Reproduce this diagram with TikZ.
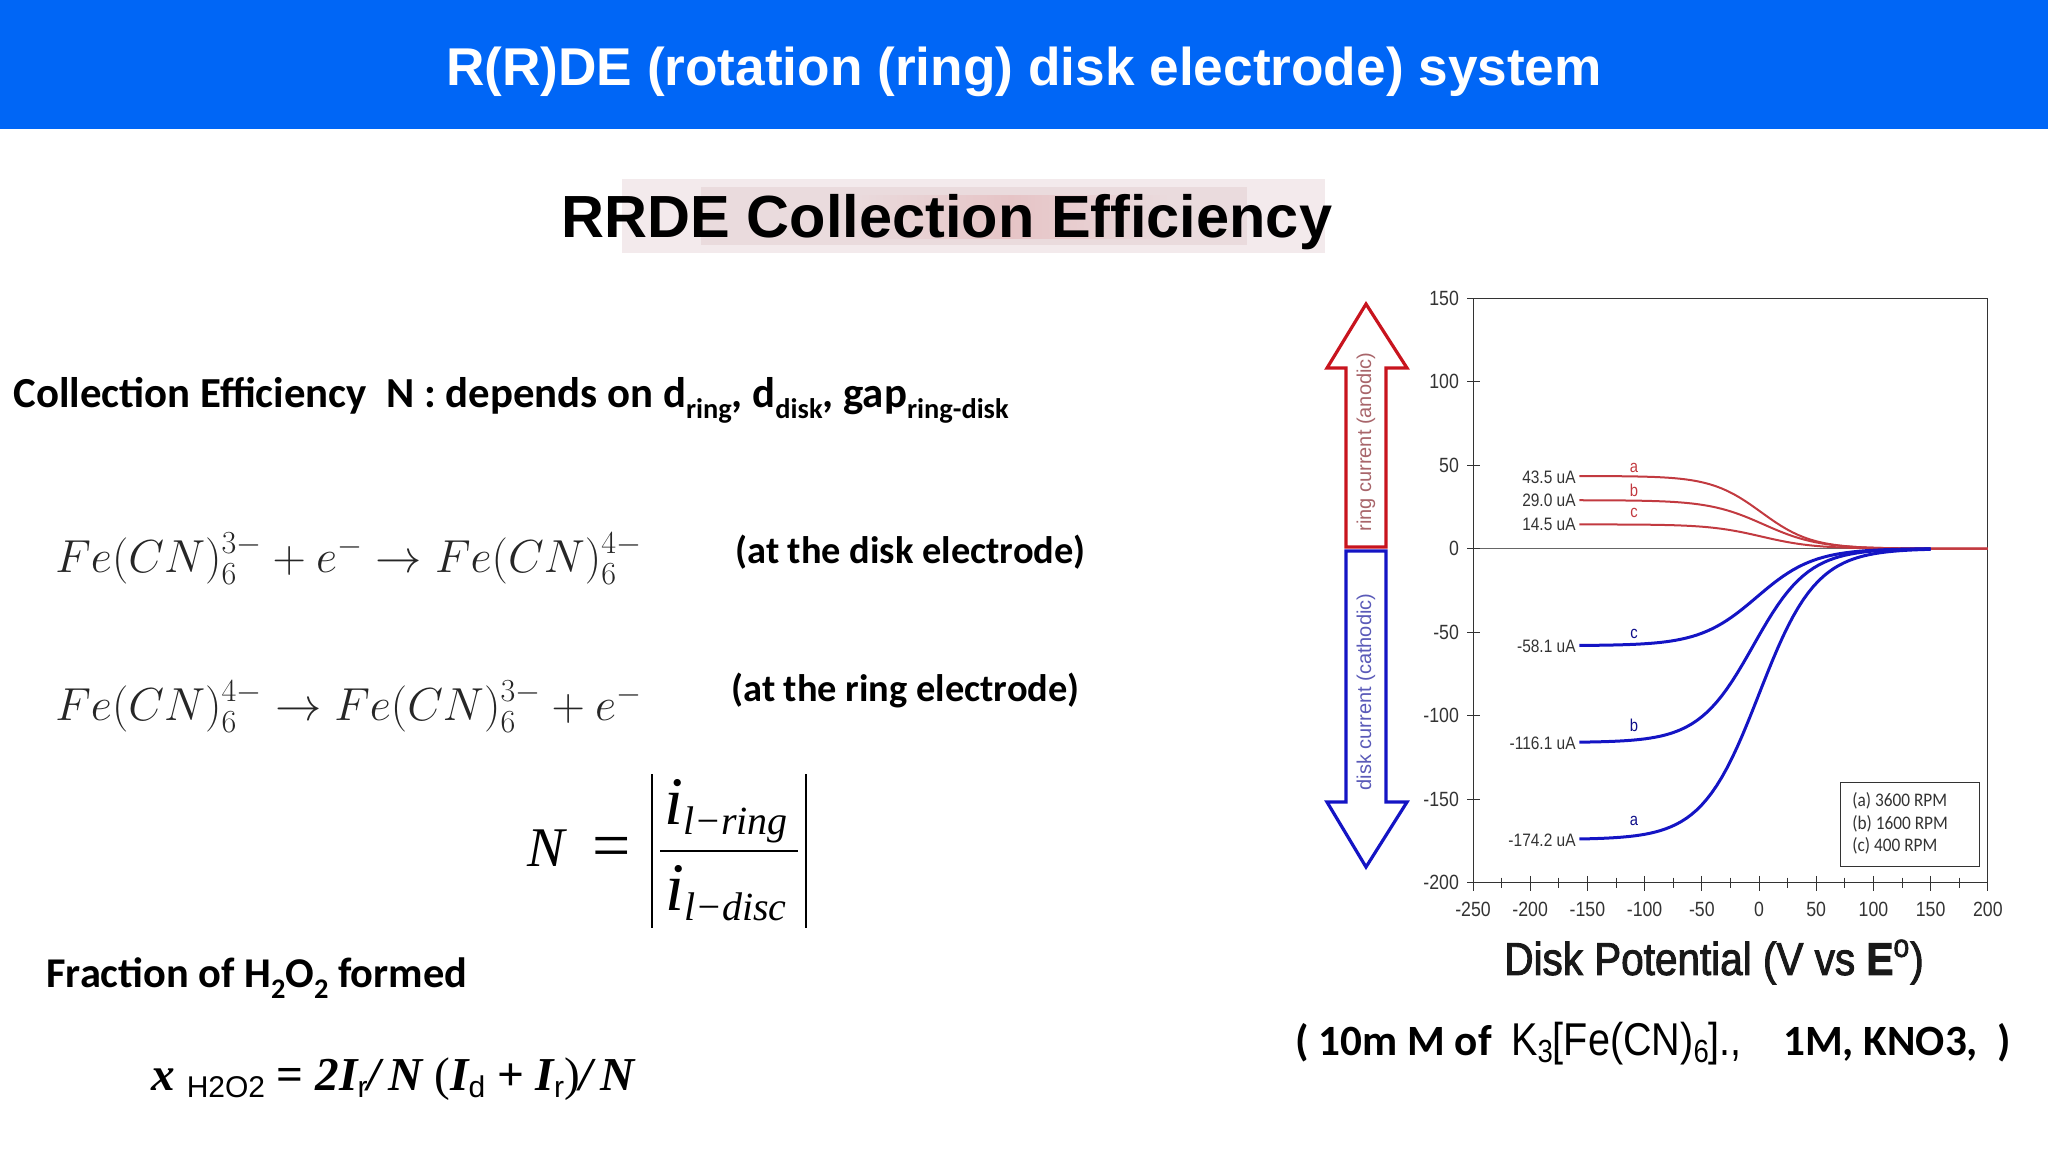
\documentclass[tikz,border=0pt]{standalone}
\usepackage{amsmath}
\usepackage{fontspec}
\usetikzlibrary{positioning}
\setmainfont{Carlito}
\newfontfamily\arialfont{Liberation Sans}
\newfontfamily\plotfont[FakeStretch=0.86]{Liberation Sans}
\newfontfamily\labelfont[FakeStretch=0.88,FakeBold=2]{Liberation Sans}
\newfontfamily\legendfont[FakeStretch=0.9]{Carlito}
\newfontfamily\timesfont{Liberation Serif}
\definecolor{HeaderBlue}{HTML}{0066F6}
\definecolor{RingRed}{HTML}{C8141E}
\definecolor{CurveRed}{HTML}{C23A40}
\definecolor{DiskBlue}{HTML}{1414C4}
\definecolor{TextRed}{HTML}{A8656A}
\definecolor{TextBlue}{HTML}{5A5AB8}
\definecolor{TickGray}{HTML}{333333}
\definecolor{GlowOuter}{HTML}{F3EAEC}
\definecolor{GlowMiddle}{HTML}{EADBDD}
\definecolor{GlowInner}{HTML}{E6C4C6}
\newcommand{\lowsub}[1]{\raisebox{-5.5pt}{\fontsize{14.2}{17}\selectfont #1}}
\newcommand{\eqsub}[1]{{\arialfont\mdseries\upshape\fontsize{15}{18}\selectfont\raisebox{-3.5pt}{#1}}}
\tikzset{
  boldtext/.style={anchor=base west, inner sep=0pt, font=\fontsize{21.4}{25}\selectfont\bfseries},
  sidetext/.style={anchor=base west, inner sep=0pt, font=\fontsize{19.2}{23}\selectfont\bfseries},
  eqtext/.style={anchor=base west, inner sep=0pt, text=black!85, scale=0.93, transform shape, font=\fontsize{24.3}{29}\selectfont},
  fractext/.style={anchor=base, inner sep=0pt, font=\timesfont\fontsize{34}{38}\selectfont\itshape},
  ticklabel/.style={inner sep=0pt, text=TickGray, font=\plotfont\fontsize{10.3}{12}\selectfont},
  curvelabel/.style={inner sep=0pt, font=\plotfont\fontsize{8.6}{10}\selectfont},
  uAlabel/.style={anchor=east, inner sep=0pt, text=TickGray, font=\plotfont\fontsize{9}{11}\selectfont},
  legendline/.style={anchor=west, inner sep=0pt, text=TickGray, font=\legendfont\fontsize{9.6}{11}\selectfont},
  ringcurve/.style={draw=CurveRed, line width=1pt},
  diskcurve/.style={draw=DiskBlue, line width=1.5pt}
}
\begin{document}
\begin{tikzpicture}[x=0.5pt, y=-0.5pt]
\useasboundingbox (0,0) rectangle (2048,1152);
% Header
\node[fill=HeaderBlue, minimum width=1024pt, minimum height=64.5pt, inner sep=0pt] (header) at (1024,64.5) {};
\node[text=white, inner sep=0pt, font=\arialfont\fontsize{26.6}{32}\selectfont\bfseries] (title) at (1024,72)
      {R(R)DE (rotation (ring) disk electrode) system};
% Highlight behind the subtitle
\fill[GlowOuter] (622,179) rectangle (1325,253);
\fill[GlowMiddle] (701,187) rectangle (1247,245);
\shade[left color=GlowMiddle, right color=GlowMiddle, middle color=GlowInner] (851,195) rectangle (1170,238);
\node[anchor=base, inner sep=0pt, font=\arialfont\fontsize{29.75}{36}\selectfont\bfseries] (subtitle) at (947,237)
      {RRDE Collection Efficiency};
% Left column
\node[boldtext] (depends) at (13,407) {Collection Efficiency\ \ N : depends on d\lowsub{ring}, d\lowsub{disk}, gap\lowsub{ring-disk}};
\node[eqtext] (eqdisk) at (55,572) {$Fe(CN)_6^{3-}+e^-\rightarrow Fe(CN)_6^{4-}$};
\node[eqtext] (eqring) at (55,720) {$Fe(CN)_6^{4-}\rightarrow Fe(CN)_6^{3-}+e^-$};
\node[sidetext] (atdisk) at (735,563) {(at the disk electrode)};
\node[sidetext] (atring) at (731,701) {(at the ring electrode)};
% N formula
\node[anchor=base west, inner sep=0pt, font=\timesfont\fontsize{28}{32}\selectfont\itshape] (eqN) at (527,866) {N};
\node[anchor=base west, inner sep=0pt, font=\timesfont\fontsize{34}{38}\selectfont] (eqsign) at (592,868) {=};
\node[fractext] (ring) at (726,824)
      {i\raisebox{-5pt}{\fontsize{20}{22}\selectfont l−ring}};
\node[fractext] (disc) at (726,910)
      {i\raisebox{-5pt}{\fontsize{20}{22}\selectfont l−disc}};
\coordinate (barL) at (652,774);
\coordinate (barR) at (806,774);
\draw[line width=0.8pt] (660,851) -- (798,851);
\draw[line width=0.8pt] (barL) -- (652,928);
\draw[line width=0.8pt] (barR) -- (806,928);
% Fraction
\node[boldtext, font=\fontsize{21.2}{25}\selectfont\bfseries] (fraction) at (46,987) {Fraction of H\lowsub{2}O\lowsub{2} formed};
\node[anchor=base west, inner sep=0pt, font=\timesfont\fontsize{23.6}{28}\selectfont\bfseries\itshape] (xeq) at (151,1090)
      {x \eqsub{H2O2} {\upshape=} 2I\eqsub{r}/\,N {\upshape\mdseries(}I\eqsub{d} {\upshape+} I\eqsub{r}{\upshape\mdseries)}/\,N};
% Block arrows
\node[rotate=90, inner sep=0pt, text=TextRed, font=\arialfont\fontsize{10}{12}\selectfont] (anodic) at (1366,442) {ring current (anodic)};
\node[rotate=90, inner sep=0pt, text=TextBlue, font=\arialfont\fontsize{10}{12}\selectfont] (cathodic) at (1366,692) {disk current (cathodic)};
\draw[RingRed, line width=1.6pt, line join=miter] (1346,547) -- (1346,368) -- (1327,368) -- (1366,304) -- (1407,368) -- (1386,368) -- (1386,547) -- cycle;
\draw[DiskBlue, line width=1.6pt, line join=miter] (1346,551) -- (1346,802) -- (1327,802) -- (1366,867) -- (1407,802) -- (1386,802) -- (1386,551) -- cycle;
% Plot
\begin{scope}[shift={(1759,548.6)}, x=0.572pt, y=0.835pt]
  \draw[black!60, line width=0.5pt] (-250,0) -- (200,0);
  \draw[TickGray, line width=0.5pt] (-250,-200) rectangle (200,150);
  \foreach \ytick in {-200,-150,...,150} {
    \draw[TickGray, line width=0.5pt] (-255,\ytick) -- (-244,\ytick);
    \node[ticklabel, anchor=east] at (-262,\ytick) {\ytick};
  }
  \foreach \xtick in {-250,-200,...,200} {
    \draw[TickGray, line width=0.5pt] (\xtick,-196) -- (\xtick,-205);
    \node[ticklabel] at (\xtick,-216) {\xtick};
  }
  \foreach \xtick in {-225,-175,...,175} {
    \draw[TickGray, line width=0.5pt] (\xtick,-197) -- (\xtick,-203);
  }
  % ring curves
  \draw[ringcurve] plot[domain=-157:200, samples=70] (\x,{43.5/(1+exp((\x-2)/22))});
  \draw[ringcurve] plot[domain=-157:200, samples=70] (\x,{29/(1+exp((\x-4)/24))});
  \draw[ringcurve] plot[domain=-157:200, samples=70] (\x,{14.5/(1+exp((\x-2)/23))});
  % disk curves
  \draw[diskcurve] plot[domain=-157:150, samples=70] (\x,{-58.1/(1+exp((\x+2)/25))});
  \draw[diskcurve] plot[domain=-157:150, samples=70] (\x,{-116.1/(1+exp((\x+5)/24))});
  \draw[diskcurve] plot[domain=-157:150, samples=70] (\x,{-174.2/(1+exp(\x/25))});
\end{scope}
% Curve labels
\node[uAlabel] (ua1) at (1576,477) {43.5 uA};
\node[uAlabel] (ua2) at (1576,500) {29.0 uA};
\node[uAlabel] (ua3) at (1576,524) {14.5 uA};
\node[uAlabel] (ua4) at (1576,646) {-58.1 uA};
\node[uAlabel] (ua5) at (1576,743) {-116.1 uA};
\node[uAlabel] (ua6) at (1576,840) {-174.2 uA};
\node[curvelabel, text=CurveRed] (ra) at (1634,468) {a};
\node[curvelabel, text=CurveRed] (rb) at (1634,490) {b};
\node[curvelabel, text=CurveRed] (rc) at (1634,513) {c};
\node[curvelabel, text=DiskBlue!70!black] (dc) at (1634,634) {c};
\node[curvelabel, text=DiskBlue!70!black] (db) at (1634,725) {b};
\node[curvelabel, text=DiskBlue!70!black] (da) at (1634,821) {a};
% Legend
\draw[TickGray, line width=0.5pt] (1840,782) rectangle (1979,866);
\node[legendline] (rpm1) at (1852,801) {(a) 3600 RPM};
\node[legendline] (rpm2) at (1852,824) {(b) 1600 RPM};
\node[legendline] (rpm3) at (1852,846) {(c) 400 RPM};
% Below the plot
\node[inner sep=0pt, text=black!90, font=\labelfont\fontsize{23}{27}\selectfont] (xlabel) at (1714,962) {Disk Potential (V vs \textbf{E}$^{\text{o}}$)};
\node[anchor=base west, inner sep=0pt, font=\fontsize{21.6}{26}\selectfont\bfseries] (solution) at (1295,1055)
      {( 10m M of\ \ {\plotfont\mdseries\fontsize{23}{26}\selectfont K\raisebox{-3.5pt}{\fontsize{16}{18}\selectfont 3}[Fe(CN)\raisebox{-3.5pt}{\fontsize{16}{18}\selectfont 6}].,}\hspace{6pt}\ \ \ 1M, KNO3,\ \ )};
\end{tikzpicture}
\end{document}
